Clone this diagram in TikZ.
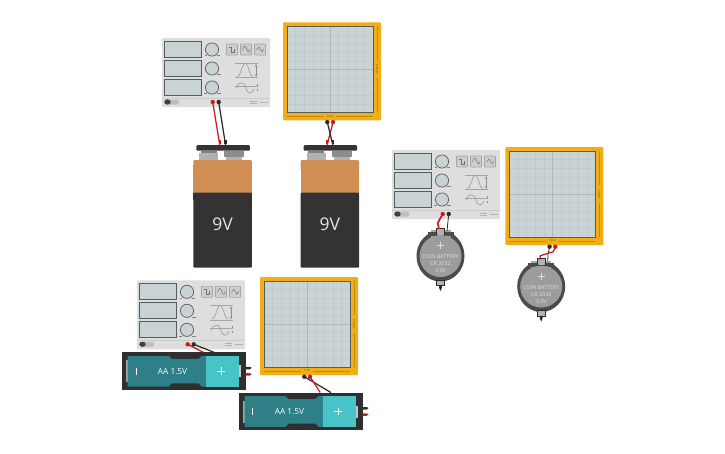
\documentclass[tikz,border=0pt]{standalone}
\usepackage{fontspec}
\setmainfont{Open Sans}
\definecolor{panel}{HTML}{DEDEDE}
\definecolor{lcd}{HTML}{C9D3D5}
\definecolor{lcdedge}{HTML}{565B5B}
\definecolor{scopeor}{HTML}{F2AE17}
\definecolor{scopeline}{HTML}{BE8A14}
\definecolor{gridc}{HTML}{BFCACC}
\definecolor{gridm}{HTML}{ADB7B9}
\definecolor{copper}{HTML}{D08E55}
\definecolor{battdark}{HTML}{333333}
\definecolor{teal}{HTML}{2E7F88}
\definecolor{cyanb}{HTML}{48C4C8}
\definecolor{wirered}{HTML}{D0181F}
\definecolor{wireblk}{HTML}{2B2B2B}
\definecolor{coingray}{HTML}{9C9C9C}
\definecolor{wavec}{HTML}{8E8E8E}
\tikzset{
  x=1pt,y=-1pt,
  redwire/.style={draw=wirered,line width=1.25pt},
  blkwire/.style={draw=wireblk,line width=1.25pt},
  lcdbox/.style={fill=lcd,draw=lcdedge,line width=0.9pt},
  wavebtn/.style={fill=panel!93!black,draw=gray!70,line width=0.6pt,rounded corners=0.6pt},
  wave/.style={draw=wavec,line width=0.5pt},
  knob/.style={fill=lcd,draw=lcdedge,line width=0.7pt},
  termr/.style={circle,fill=wirered,inner sep=0pt,minimum size=4.4pt},
  termk/.style={circle,fill=wireblk,inner sep=0pt,minimum size=4.4pt},
  funcgen/.pic={
    \fill[panel,rounded corners=1pt] (0,0) rectangle (108,69);
    \draw[panel!92!black,line width=0.4pt] (0,60) -- (108,60);
    \draw[lcdbox] (2.5,3.5) rectangle (39.5,19);
    \draw[lcdbox] (2.5,22.5) rectangle (39.5,38);
    \draw[lcdbox] (2.5,41.5) rectangle (39.5,57);
    \draw[knob] (50,11.5) circle (6.6);
    \draw[knob] (50,30.5) circle (6.6);
    \draw[knob] (50,49.5) circle (6.6);
    \draw[gray,line width=0.5pt] (43,17.5)--(45,17.5) (55,17.5)--(58,17.5) (55,36.5)--(59,36.5) (42,55.5)--(45,55.5) (55,55.5)--(59,55.5);
    \foreach \bx in {64.5,78.5,92.5}{\draw[wavebtn] (\bx,6) rectangle ++(11,11);}
    \draw[wave,draw=wavec!80!black] (66.5,9) -- (69,9) -- (69,14) -- (72,14) -- (72,11);
    \draw[wave,draw=wavec!80!black] (80.5,12) .. controls (82,6) and (84,8) .. (85,11.5) .. controls (86,15) and (87.5,15) .. (88,11);
    \draw[wave,draw=wavec!80!black] (94.5,12) -- (97,9) -- (100,14) -- (102,11);
    \draw[draw=panel!75!black,line width=0.4pt] (73,25) -- (96,25) (73,39.5) -- (96,39.5);
    \draw[wave,<->,>=stealth,line width=0.3pt] (94,26) -- (94,39);
    \draw[wave] (75,38.5) .. controls (79,38.5) and (80,25.5) .. (83,25.5) .. controls (87,25.5) and (87,38.5) .. (91,38.5);
    \draw[draw=panel!75!black,line width=0.4pt] (73,48) -- (96,48);
    \draw[wave] (74,50) .. controls (77,43) and (82,43) .. (84,50) .. controls (86,57) and (90,56) .. (92,51);
    \draw[wavec,line width=0.6pt] (95,45.5)--(95,47.5) (95,51)--(95,53);
    \draw[panel!80!black,line width=0.3pt] (88,63)--(95,63) (88,65)--(95,65) (98,64)--(106,64);
    \fill[panel!85!black,rounded corners=2pt] (2.5,61.5) rectangle (17,66.5);
    \fill[wireblk!90] (5.5,64) ellipse (3.2 and 2.6);
    \coordinate (-r) at (50.7,64);
    \coordinate (-k) at (56.7,64);
  },
  scopebox/.pic={
    \fill[scopeor,rounded corners=1pt] (0,0) rectangle (98,98);
    \fill[lcd] (4,4) rectangle (90,90);
    \foreach \g in {12.6,21.2,29.8,38.4,55.6,64.2,72.8,81.4}{
      \draw[gridc,line width=0.3pt] (\g,4)--(\g,90) (4,\g)--(90,\g);}
    \draw[gridm,line width=0.5pt] (47,4)--(47,90) (4,47)--(90,47);
    \draw[lcdedge,line width=1pt] (4,4) rectangle (90,90);
    \draw[scopeline,line width=0.25pt] (4,94)--(41,94) (53,94)--(90,94) (94,4)--(94,38) (94,56)--(94,90);
    \node[font=\fontsize{2.6}{3}\selectfont,text=black!70,inner sep=0pt] at (47,94) {Time};
    \node[font=\fontsize{2.6}{3}\selectfont,text=black!70,inner sep=0pt,rotate=-90] at (94,47) {Voltage};
    \coordinate (-k) at (44.3,99.7);
    \coordinate (-r) at (50,99.7);
  },
  ninev/.pic={
    \fill[battdark,rounded corners=1pt] (3,-15) rectangle (56.5,-9.5);
    \fill[gray!60] (6,-7.5) rectangle (25,0);
    \fill[gray] (7.5,-9.5) rectangle (23.5,-7.5);
    \fill[gray!90] (31,-9.5) rectangle (51,-3.5);
    \fill[gray!60] (33,-3.5) rectangle (49,0);
    \fill[copper,rounded corners=1pt] (0,0) rectangle (58.5,10) ;
    \fill[copper] (0,5) rectangle (58.5,32.5);
    \fill[battdark,rounded corners=1pt] (0,32.5) rectangle (58.5,107.5);
    \fill[battdark] (0,32.5) rectangle (58.5,40);
    \node[font=\fontsize{17.5}{20}\selectfont,text=gray!20,inner sep=0pt] at (29.2,64.3) {9V};
    \coordinate (-r) at (26.5,-15);
    \coordinate (-k) at (32.3,-15);
  },
  coincell/.pic={
    \fill[wireblk!85] (-24,0) arc (180:0:24 and 25.5) arc (0:-180:24 and 25.5);
    \fill[gray!70] (-10,-26) rectangle (10,-19);
    \fill[wireblk!85] (-13,-24) rectangle (13,-20);
    \fill[black!85] (-1.3,29) -- (1.3,29) -- (1.3,32) -- (0,35) -- (-1.3,32) -- cycle;
    \fill[gray!60,draw=wireblk,line width=0.6pt] (-4,-28) rectangle (4,-21);
    \fill[gray!60,draw=wireblk,line width=0.6pt] (-4,24) rectangle (4,29.5);
    \fill[coingray] (0,0) circle (21);
    \draw[gray!25,line width=0.5pt] (-3.5,-10.3)--(3.5,-10.3) (0,-13.8)--(0,-6.8);
    \node[font=\fontsize{5.4}{6}\selectfont,text=gray!25,inner sep=0pt] at (0,1) {COIN BATTERY};
    \node[font=\fontsize{5.4}{6}\selectfont,text=gray!25,inner sep=0pt] at (0,8) {CR 2032};
    \node[font=\fontsize{5.4}{6}\selectfont,text=gray!25,inner sep=0pt] at (0,15) {3.0V};
    \coordinate (-r) at (-1.5,-27);
    \coordinate (-k) at (6.5,-25);
  },
  aacell/.pic={
    \fill[wireblk!95!gray] (0,0) rectangle (124,37.7);
    \fill[gray!70] (4,8) rectangle (6,30);
    \fill[teal] (6,3.7) -- (47,3.7) -- (50,6.5) -- (77,6.5) -- (80,3.7) -- (117,3.7) -- (117,34.4) -- (80,34.4) -- (77,31) -- (50,31) -- (47,34.4) -- (6,34.4) -- cycle;
    \fill[cyanb] (84.3,3.7) rectangle (117.3,34.4);
    \fill[gray!45] (117.3,13) rectangle (119.5,25);
    \fill[wireblk] (124,14.5) -- (128,14.5) -- (130,15.5) -- (128,17) -- (124,17) -- cycle;
    \fill[wirered] (124,20.8) -- (128,20.8) -- (130,21.8) -- (128,23.3) -- (124,23.3) -- cycle;
    \draw[white,line width=1pt] (14.3,15.5)--(14.3,22.5);
    \draw[white,line width=1pt] (95.7,18.8)--(103.3,18.8) (99.5,15)--(99.5,22.6);
    \node[font=\fontsize{8.3}{9}\selectfont,text=white,inner sep=0pt] at (50.8,18.8) {AA 1.5V};
    \coordinate (-r) at (81.6,0);
    \coordinate (-k) at (92.3,0);
  },
}
\begin{document}
\begin{tikzpicture}
\useasboundingbox (0,0) rectangle (725,453);
\fill[white] (0,0) rectangle (725,453);

\pic (g1) at (162,38) {funcgen};
\pic (s1) at (283,22.4) {scopebox};
\pic (b1) at (193.3,160.2) {ninev};
\pic (b2) at (300.6,160.2) {ninev};

\pic (g2) at (392,150) {funcgen};
\pic (s2) at (505.3,147) {scopebox};
\pic (c1) at (440.5,256) {coincell};
\pic (c2) at (541.2,286.5) {coincell};

\pic (g3) at (137,280.3) {funcgen};
\pic (s3) at (260,277) {scopebox};
\pic (a1) at (121.7,352.3) {aacell};
\pic (a2) at (238.6,392.5) {aacell};

% connectors
\draw[redwire] (g1-r) -- (b1-r);
\draw[blkwire] (g1-k) -- (b1-k);
\draw[redwire] (s1-r) -- (b2-r);
\draw[blkwire] (s1-k) -- (b2-k);
\foreach \t in {b1,b2}{
  \fill[wireblk] (\t-k) ++(-1.3,-5) rectangle ++(2.6,4);
  \fill[wirered] (\t-r) ++(-1.3,-5) rectangle ++(2.6,4);
}

\draw[blkwire,line width=0.8pt] (g2-k) -- (c1-k);
\draw[redwire,line width=1.7pt] (g2-r) -- ([shift={(-5,9)}]g2-r) -- (c1-r);
\draw[blkwire,line width=0.8pt] (s2-k) -- ([shift={(-1.5,7)}]s2-k) -- (c2-k);
\draw[redwire,line width=1.3pt] (s2-r) -- ([shift={(-2,5)}]s2-r) -- ([shift={(-15,9)}]s2-r) -- (c2-r);

\draw[blkwire] (g3-k) -- (a1-k);
\draw[redwire] (g3-r) -- (a1-r);
\draw[blkwire] (s3-k) -- (a2-k);
\draw[redwire] (s3-r) -- (a2-r);

\foreach \t in {g1,g2,g3,s1,s2,s3}{
  \node[termr] at (\t-r) {};
  \node[termk] at (\t-k) {};
}
\end{tikzpicture}
\end{document}
